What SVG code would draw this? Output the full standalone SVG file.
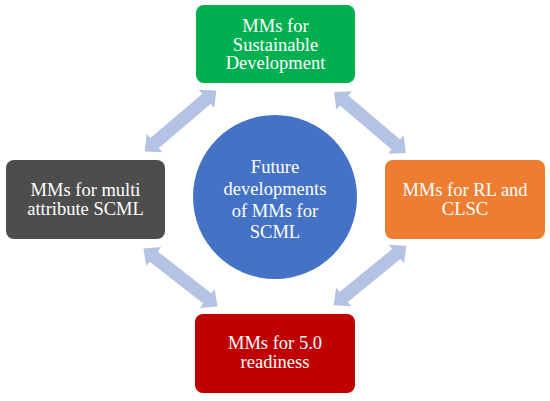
<svg xmlns="http://www.w3.org/2000/svg" width="550" height="401" viewBox="0 0 550 401">
<defs>
<style>
.t{font-family:"Liberation Serif","Times New Roman",serif;font-size:18.5px;fill:#ffffff;text-anchor:middle}
.ar{fill:#b4c2e4}
</style>
<polygon id="dbl" points="-47,0 -34,-12 -34,-6.5 34,-6.5 34,-12 47,0 34,12 34,6.5 -34,6.5 -34,12"/>
</defs>
<rect width="550" height="401" fill="#ffffff"/>
<g id="connectors" class="ar">
<use href="#dbl" transform="translate(180.5,121) rotate(-40.3)"/>
<use href="#dbl" transform="translate(370,122.5) rotate(40.3)"/>
<use href="#dbl" transform="translate(180.5,277.5) rotate(38)"/>
<use href="#dbl" transform="translate(370,275.5) rotate(-39.3)"/>
</g>
<g id="center">
<circle cx="275" cy="197" r="82" fill="#4472c4"/>
<text class="t" x="275" y="173">Future</text>
<text class="t" x="275" y="195">developments</text>
<text class="t" x="275" y="217">of MMs for</text>
<text class="t" x="275" y="238">SCML</text>
</g>
<g id="sustainable">
<rect x="196" y="5" width="159" height="78" rx="8" fill="#00b050"/>
<text class="t" x="275.5" y="32">MMs for</text>
<text class="t" x="275.5" y="50.5">Sustainable</text>
<text class="t" x="275.5" y="69">Development</text>
</g>
<g id="multi">
<rect x="6" y="160" width="159" height="79" rx="8" fill="#4d4d4d"/>
<text class="t" x="85.5" y="196">MMs for multi</text>
<text class="t" x="85.5" y="214.5">attribute SCML</text>
</g>
<g id="rlclsc">
<rect x="385" y="160" width="160" height="79" rx="8" fill="#ed7d31"/>
<text class="t" x="465" y="195.5">MMs for RL and</text>
<text class="t" x="465" y="214.5">CLSC</text>
</g>
<g id="readiness">
<rect x="195" y="314" width="160" height="79" rx="8" fill="#c00000"/>
<text class="t" x="275" y="349">MMs for 5.0</text>
<text class="t" x="275" y="368">readiness</text>
</g>
</svg>
